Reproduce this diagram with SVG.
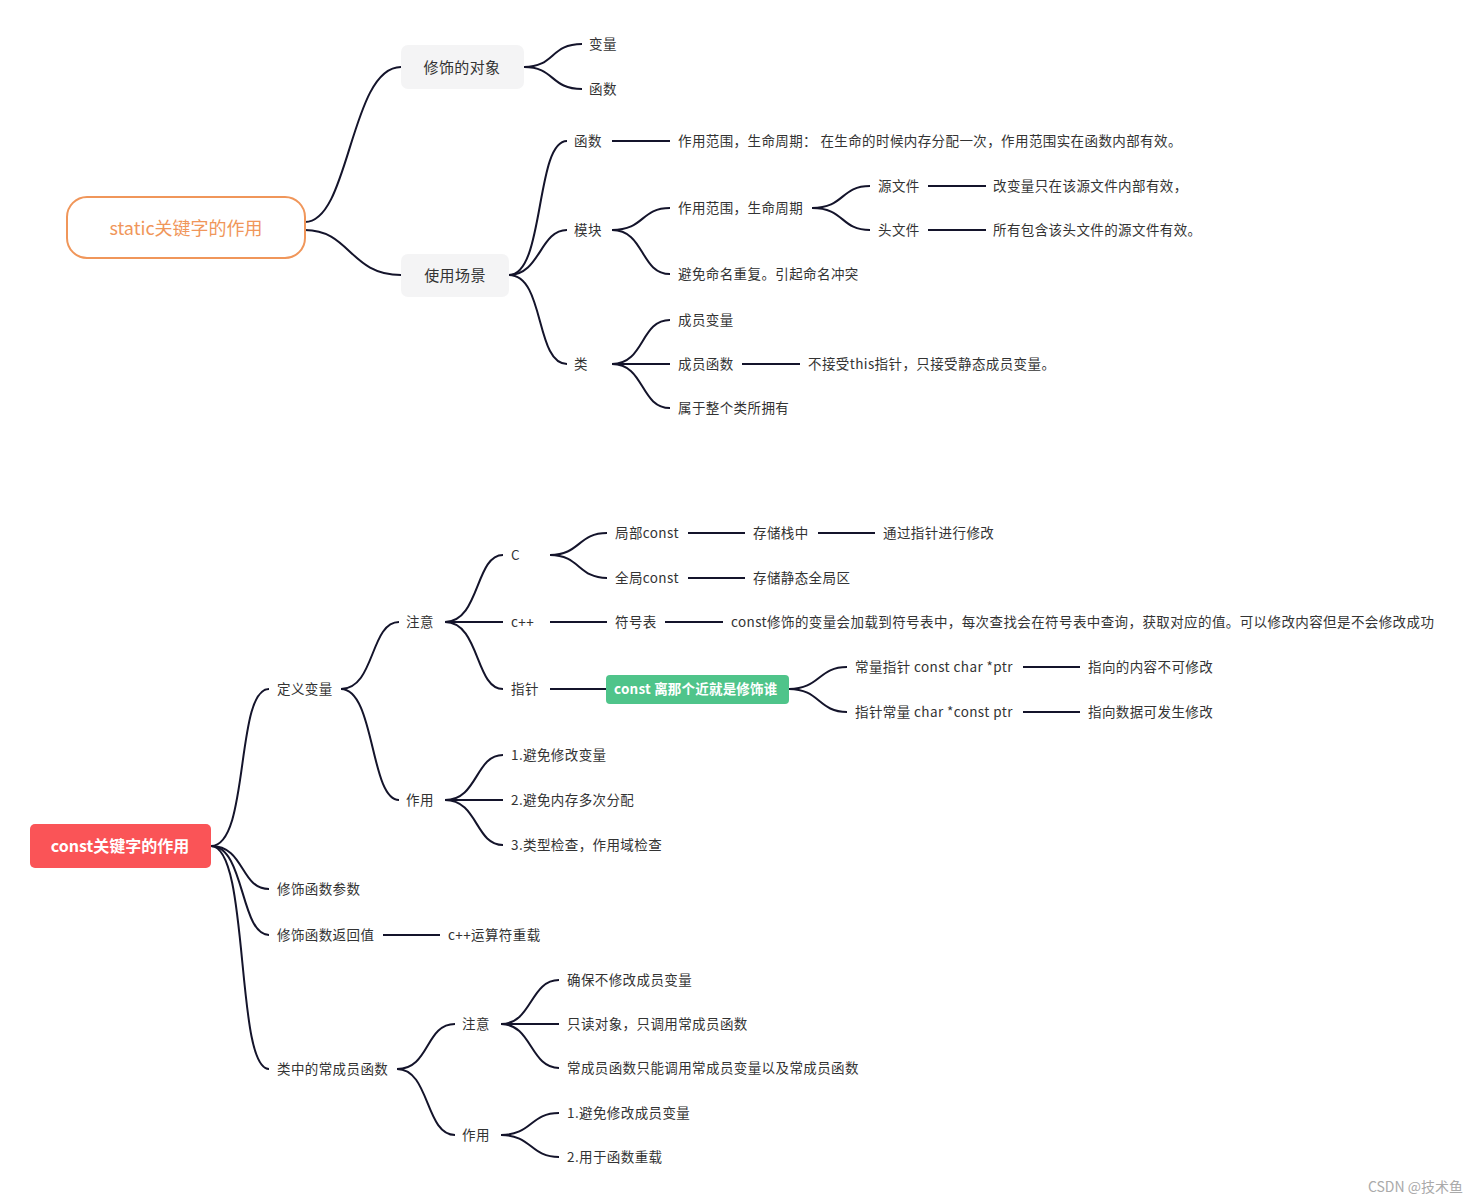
<svg xmlns="http://www.w3.org/2000/svg" width="1478" height="1203" viewBox="0 0 1478 1203">
<style>
text{font-family:"Noto Sans CJK SC","Noto Sans",sans-serif;font-size:13.5px;letter-spacing:0.4px;fill:#333;dominant-baseline:central}
.c path{fill:none;stroke:#14142b;stroke-width:2}
.n2{font-size:15px}
</style>
<rect width="1478" height="1203" fill="#fff"/>
<g class="c" id="connectors">
<path d="M305,222 C350,222 350,67 401,67"/>
<path d="M305,230 C350,230 350,275 401,275"/>
<path d="M524,67 C555,67 550,44 582,44"/>
<path d="M524,67 C555,67 550,89 582,89"/>
<path d="M509,275 C545,275 535,141 567,141"/>
<path d="M509,275 C540,275 540,230 567,230"/>
<path d="M509,275 C545,275 535,364 567,364"/>
<path d="M612,141 H670"/>
<path d="M612,230 C645,230 640,208 670,208"/>
<path d="M612,230 C645,230 640,274 670,274"/>
<path d="M812,208 C845,208 840,186 870,186"/>
<path d="M812,208 C845,208 840,230 870,230"/>
<path d="M928,186 H986"/><path d="M928,230 H986"/>
<path d="M612,364 C645,364 640,320 670,320"/>
<path d="M612,364 H670"/>
<path d="M612,364 C645,364 640,408 670,408"/>
<path d="M742,364 H800"/>
<path d="M211,846 C250,846 235,689 269,689"/>
<path d="M211,846 C245,846 240,889 269,889"/>
<path d="M211,846 C245,846 240,935 269,935"/>
<path d="M211,846 C250,846 235,1069 269,1069"/>
<path d="M341,689 C375,689 370,622 399,622"/>
<path d="M341,689 C375,689 370,800 399,800"/>
<path d="M445,622 C480,622 475,555 503,555"/>
<path d="M445,622 H503"/>
<path d="M445,622 C480,622 475,689 503,689"/>
<path d="M550,555 C580,555 578,533 607,533"/>
<path d="M550,555 C580,555 578,578 607,578"/>
<path d="M688,533 H745"/><path d="M818,533 H875"/><path d="M688,578 H745"/>
<path d="M550,622 H607"/><path d="M665,622 H723"/>
<path d="M550,689 H606"/>
<path d="M789,689 C820,689 818,667 847,667"/>
<path d="M789,689 C820,689 818,712 847,712"/>
<path d="M1023,667 H1080"/><path d="M1023,712 H1080"/>
<path d="M445,800 C478,800 475,755 503,755"/>
<path d="M445,800 H503"/>
<path d="M445,800 C478,800 475,845 503,845"/>
<path d="M383,935 H440"/>
<path d="M397,1069 C430,1069 425,1024 455,1024"/>
<path d="M397,1069 C430,1069 425,1135 455,1135"/>
<path d="M501,1024 C532,1024 530,980 559,980"/>
<path d="M501,1024 H559"/>
<path d="M501,1024 C532,1024 530,1068 559,1068"/>
<path d="M501,1135 C532,1135 530,1113 559,1113"/>
<path d="M501,1135 C532,1135 530,1157 559,1157"/>
</g>
<g id="static-root"><rect x="67" y="197" width="238" height="61" rx="20" fill="#fff" stroke="#f0965a" stroke-width="2"/><text x="186" y="227" text-anchor="middle" style="font-size:18px;letter-spacing:0;fill:#f0965a">static关键字的作用</text></g>
<g id="s1"><rect x="401" y="45" width="123" height="44" rx="7" fill="#f4f4f5"/><text class="n2" x="462" y="66" text-anchor="middle">修饰的对象</text></g>
<g id="s2"><rect x="401" y="254" width="108" height="43" rx="7" fill="#f4f4f5"/><text class="n2" x="455" y="274" text-anchor="middle">使用场景</text></g>
<g id="s-leaves" transform="translate(0,-1)">
<text x="589" y="44">变量</text><text x="589" y="89">函数</text>
<text x="574" y="141">函数</text><text x="574" y="230">模块</text><text x="574" y="364">类</text>
<text x="678" y="141">作用范围，生命周期： 在生命的时候内存分配一次，作用范围实在函数内部有效。</text>
<text x="678" y="208">作用范围，生命周期</text><text x="678" y="274">避免命名重复。引起命名冲突</text>
<text x="878" y="186">源文件</text><text x="878" y="230">头文件</text>
<text x="993" y="186">改变量只在该源文件内部有效，</text><text x="993" y="230">所有包含该头文件的源文件有效。</text>
<text x="678" y="320">成员变量</text><text x="678" y="364">成员函数</text><text x="678" y="408">属于整个类所拥有</text>
<text x="808" y="364">不接受this指针，只接受静态成员变量。</text>
</g>
<g id="const-root"><rect x="30" y="824" width="181" height="44" rx="5" fill="#fa5457"/><text x="120" y="845" text-anchor="middle" style="font-size:16px;letter-spacing:0;fill:#fff;font-weight:bold">const关键字的作用</text></g>
<g id="green"><rect x="606" y="675" width="183" height="29" rx="4" fill="#4fc48a"/><text x="614" y="688" style="fill:#fff;font-weight:bold;letter-spacing:0.2px">const 离那个近就是修饰谁</text></g>
<g id="c-leaves" transform="translate(0,-1)">
<text x="277" y="689">定义变量</text><text x="277" y="889">修饰函数参数</text><text x="277" y="935">修饰函数返回值</text><text x="277" y="1069">类中的常成员函数</text>
<text x="406" y="622">注意</text><text x="406" y="800">作用</text>
<text x="511" y="555">C</text><text x="511" y="622">c++</text><text x="511" y="689">指针</text>
<text x="615" y="533">局部const</text><text x="615" y="578">全局const</text>
<text x="753" y="533">存储栈中</text><text x="883" y="533">通过指针进行修改</text><text x="753" y="578">存储静态全局区</text>
<text x="615" y="622">符号表</text>
<text x="731" y="622">const修饰的变量会加载到符号表中，每次查找会在符号表中查询，获取对应的值。可以修改内容但是不会修改成功</text>
<text x="855" y="667">常量指针 const char *ptr</text><text x="855" y="712">指针常量 char *const ptr</text>
<text x="1088" y="667">指向的内容不可修改</text><text x="1088" y="712">指向数据可发生修改</text>
<text x="511" y="755">1.避免修改变量</text><text x="511" y="800">2.避免内存多次分配</text><text x="511" y="845">3.类型检查，作用域检查</text>
<text x="448" y="935">c++运算符重载</text>
<text x="462" y="1024">注意</text><text x="462" y="1135">作用</text>
<text x="567" y="980">确保不修改成员变量</text><text x="567" y="1024">只读对象，只调用常成员函数</text><text x="567" y="1068">常成员函数只能调用常成员变量以及常成员函数</text>
<text x="567" y="1113">1.避免修改成员变量</text><text x="567" y="1157">2.用于函数重载</text>
</g>
<text x="1463" y="1186" text-anchor="end" style="font-size:14px;letter-spacing:0;fill:#aaa">CSDN @技术鱼</text>
</svg>
